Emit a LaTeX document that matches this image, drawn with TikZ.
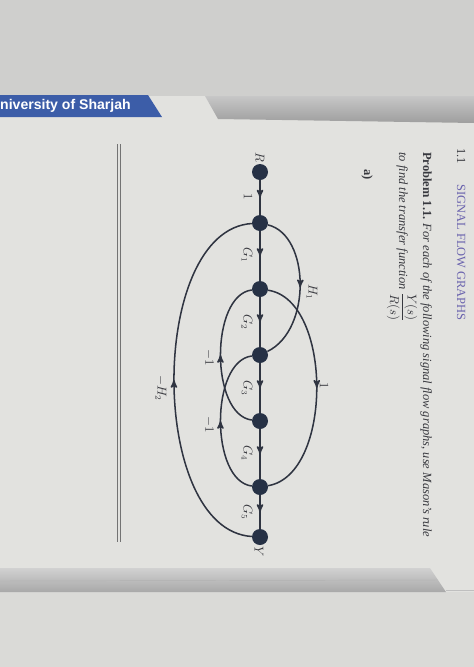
\documentclass[tikz,border=0pt]{standalone}
\usepackage{amsmath}
\usepackage{fontspec}
\setmainfont{Liberation Serif}
\newfontfamily\bannerfont{Liberation Sans}
\usetikzlibrary{arrows}
\usetikzlibrary{decorations.markings}

\definecolor{pagebg}{HTML}{E2E2DF}
\definecolor{topbg}{HTML}{CFCFCD}
\definecolor{lowbg}{HTML}{DADAD7}
\definecolor{inkline}{HTML}{2F3441}
\definecolor{nodefill}{HTML}{263145}
\definecolor{banner}{HTML}{3C5DA8}
\definecolor{heading}{HTML}{6A63AE}
\definecolor{inktext}{HTML}{38393F}

\tikzset{
  flow/.style={inkline, line width=1.3pt},
  midarrow/.style={postaction={decorate}, decoration={markings, mark=at position 0.5 with {\arrow{stealth'}}}},
  sig/.style={circle, fill=nodefill, inner sep=0pt, minimum size=0.48cm},
  gain/.style={rotate=-90, inner sep=1pt, text=inktext, font=\fontsize{10.5}{12}\selectfont},
  pagetext/.style={rotate=-90, anchor=base west, inner sep=0pt, text=inktext, font=\fontsize{10.65}{12}\selectfont},
}

\begin{document}
\begin{tikzpicture}[x=0.03cm, y=-0.03cm]
\useasboundingbox (0,0) rectangle (474,667);
% photo background
\fill[pagebg] (0,0) rectangle (474,667);
\fill[topbg] (0,0) rectangle (474,96);
\fill[lowbg] (0,592) rectangle (474,667);
\shade[top color=black!22, bottom color=black!38] (205,96) -- (474,96) -- (474,123) -- (218,119) -- cycle;
\fill[banner] (0,95) -- (148,95) -- (162,117) -- (0,117) -- cycle;
\node[anchor=base west, inner sep=0pt, text=white, font=\bannerfont\bfseries\fontsize{12}{14}\selectfont] (uni) at (0,109) {niversity of Sharjah};
\shade[top color=black!18, bottom color=black!34] (0,568) -- (430,568) -- (446,592) -- (0,592) -- cycle;
\draw[black!30, line width=0.4pt] (0,581) -- (438,580);
\draw[black!25, line width=0.4pt] (446,590) -- (474,590);
% double rule
\draw[black!55, line width=0.6pt] (117.5,144) -- (117.5,542);
\draw[black!55, line width=0.6pt] (120.5,144) -- (120.5,542);

% page text
\node[pagetext] (sec) at (457,148) {1.1};
\node[pagetext, text=heading] (secname) at (457,184) {SIGNAL FLOW GRAPHS};
\node[pagetext] (prob) at (423,152) {\textbf{Problem 1.1.} \textit{For each of the following signal flow graphs, use Mason’s rule}};
\node[pagetext] (prob2) at (399,152) {\textit{to find the transfer function} $\dfrac{Y(s)}{R(s)}$};
\node[pagetext] (parta) at (364,169) {\textbf{a)}};

% signal flow graph
\node[sig] (r) at (260,172) {};
\node[sig] (v1) at (260,223) {};
\node[sig] (v2) at (260,289) {};
\node[sig] (v3) at (260,355) {};
\node[sig] (v4) at (260,421) {};
\node[sig] (v5) at (260,487) {};
\node[sig] (y) at (260,537) {};

\foreach \a/\b in {r/v1, v1/v2, v2/v3, v3/v4, v4/v5, v5/y}
  \draw[flow, midarrow] (\a) -- (\b);

\draw[flow, midarrow] (v1) .. controls (310,235) and (312,330) .. (v3);
\draw[flow, midarrow] (v2) .. controls (333,300) and (333,475) .. (v5);
\draw[flow, midarrow] (v4) .. controls (210,415) and (210,295) .. (v2);
\draw[flow, midarrow] (v5) .. controls (210,481) and (210,361) .. (v3);
\draw[flow, midarrow] (y) .. controls (148,530) and (148,230) .. (v1);

% gains
\node[gain] (lr) at (260,157) {$R$};
\node[gain] (ly) at (259,552) {$Y$};
\node[gain] (l1) at (248,197) {$1$};
\node[gain] (lg1) at (247,255) {$G_1$};
\node[gain] (lg2) at (247,322) {$G_2$};
\node[gain] (lg3) at (247,388) {$G_3$};
\node[gain] (lg4) at (247,453) {$G_4$};
\node[gain] (lg5) at (247,512) {$G_5$};
\node[gain] (lh1) at (312,292) {$H_1$};
\node[gain] (lfb) at (324,386) {$1$};
\node[gain] (lm1) at (209,358) {$-1$};
\node[gain] (lm2) at (209,425) {$-1$};
\node[gain] (lh2) at (161,388) {$-H_2$};
\end{tikzpicture}
\end{document}
